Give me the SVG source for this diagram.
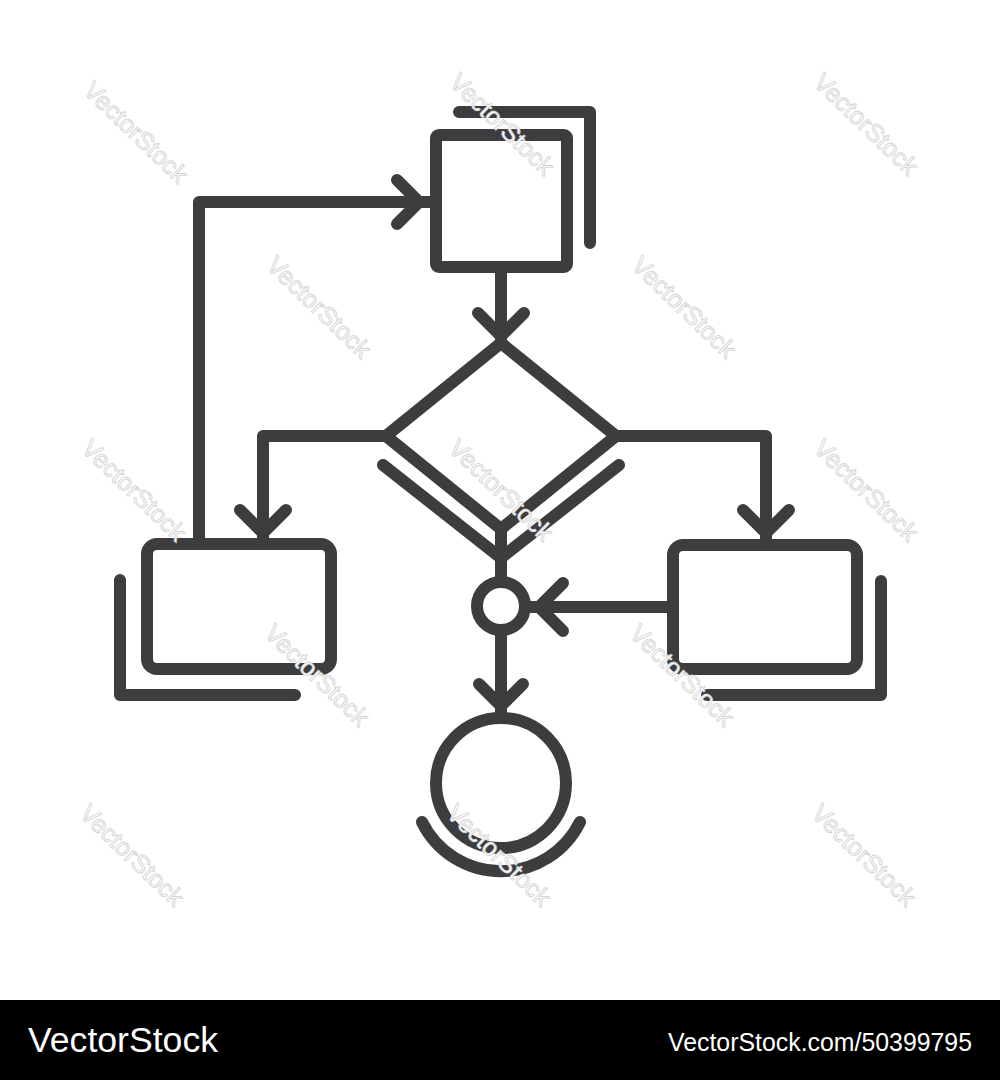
<svg xmlns="http://www.w3.org/2000/svg" width="1000" height="1080" viewBox="0 0 1000 1080">
<style>
.s{fill:none;stroke:#3d3d3f;stroke-width:12;stroke-linecap:round;stroke-linejoin:round}
.wm{font-family:"Liberation Sans",Arial,sans-serif;font-size:25px;fill:#ffffff;stroke:#d4d4d4;stroke-width:0.9}
.bar{font-family:"Liberation Sans",Arial,sans-serif;fill:#ffffff}
</style>
<rect width="1000" height="1080" fill="#ffffff"/>
<g id="connectors" class="s">
<path d="M199,541 V202 H430"/>
<path d="M397,180 L419,202 L397,224"/>
<path d="M501,267 V343"/>
<path d="M478,313 L501,336 L524,313"/>
<path d="M386,436 H263 V541"/>
<path d="M240,510 L263,533 L286,510"/>
<path d="M616,436 H766 V541"/>
<path d="M743,510 L766,533 L789,510"/>
<path d="M501,529 V582"/>
<path d="M673,607 H531"/>
<path d="M563,583 L539,607 L563,631"/>
<path d="M501,630 V715"/>
<path d="M479,684 L501,706 L523,684"/>
</g>
<g id="process-top" class="s">
<rect x="436" y="135" width="131" height="132" rx="3"/>
<path d="M459,112 H590 V243"/>
</g>
<g id="decision" class="s">
<path d="M501,343 L616,436 L501,529 L386,436 Z"/>
<path d="M383,465 L501,558 L619,465"/>
</g>
<g id="process-left" class="s">
<rect x="147" y="544" width="184" height="125" rx="10"/>
<path d="M120,580 V695 H295"/>
</g>
<g id="process-right" class="s">
<rect x="673" y="545" width="184" height="124" rx="10"/>
<path d="M881,581 V695 H707"/>
</g>
<g id="junction" class="s">
<circle cx="501" cy="606" r="24"/>
</g>
<g id="terminal" class="s">
<circle cx="501" cy="783" r="65"/>
<path d="M422,822 A88,88 0 0 0 580,822"/>
</g>
<g id="watermarks">
<text class="wm" transform="translate(82,92) rotate(44)">VectorStock</text>
<text class="wm" transform="translate(448,84) rotate(44)">VectorStock</text>
<text class="wm" transform="translate(812,84) rotate(44)">VectorStock</text>
<text class="wm" transform="translate(265,267) rotate(44)">VectorStock</text>
<text class="wm" transform="translate(630,267) rotate(44)">VectorStock</text>
<text class="wm" transform="translate(80,450) rotate(44)">VectorStock</text>
<text class="wm" transform="translate(447,450) rotate(44)">VectorStock</text>
<text class="wm" transform="translate(812,450) rotate(44)">VectorStock</text>
<text class="wm" transform="translate(263,635) rotate(44)">VectorStock</text>
<text class="wm" transform="translate(628,635) rotate(44)">VectorStock</text>
<text class="wm" transform="translate(78,815) rotate(44)">VectorStock</text>
<text class="wm" transform="translate(445,815) rotate(44)">VectorStock</text>
<text class="wm" transform="translate(810,815) rotate(44)">VectorStock</text>
</g>
<g id="footer">
<rect x="0" y="1000" width="1000" height="80" fill="#000000"/>
<text class="bar" x="28" y="1052" font-size="35" textLength="190" lengthAdjust="spacingAndGlyphs">VectorStock</text>
<text class="bar" x="668" y="1051" font-size="25" textLength="304" lengthAdjust="spacingAndGlyphs">VectorStock.com/50399795</text>
</g>
</svg>
